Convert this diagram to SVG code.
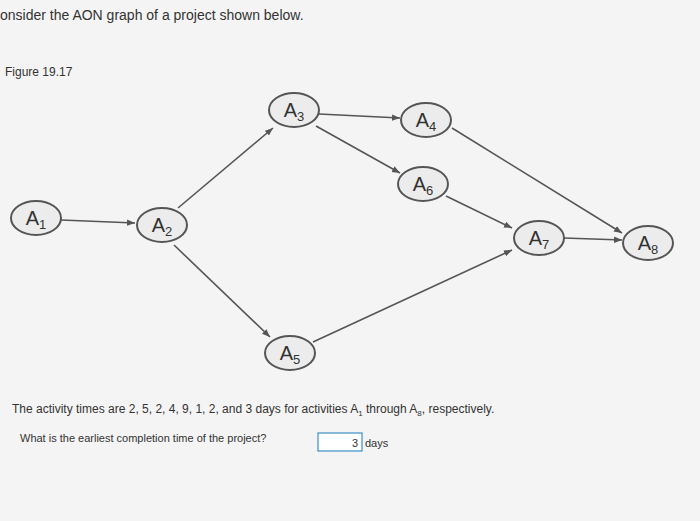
<svg xmlns="http://www.w3.org/2000/svg" width="700" height="521" viewBox="0 0 700 521">
<style>
.n{fill:#ececec;stroke:#555;stroke-width:2}
.l{font-family:"Liberation Sans",Arial,sans-serif;font-size:20px;fill:#333;text-anchor:middle}
.s{font-size:13px}
.c{stroke:#555;stroke-width:1.6;fill:none;marker-end:url(#ah)}
.t{font-family:"Liberation Sans",Arial,sans-serif;fill:#333}
</style>
<defs><marker id="ah" viewBox="0 0 10 10" refX="10" refY="5" markerWidth="8" markerHeight="8" orient="auto" markerUnits="userSpaceOnUse"><path d="M0,1 L10,5 L0,9z" fill="#555"/></marker></defs>
<rect width="700" height="521" fill="#f4f4f4"/>
<text class="t" x="0" y="20" font-size="14">onsider the AON graph of a project shown below.</text>
<text class="t" x="5" y="76" font-size="12">Figure 19.17</text>
<g id="connectors">
<line class="c" x1="61" y1="220" x2="135" y2="223"/>
<line class="c" x1="178" y1="208" x2="273" y2="128"/>
<line class="c" x1="174" y1="245" x2="270" y2="337"/>
<line class="c" x1="319" y1="114" x2="400" y2="118"/>
<line class="c" x1="316" y1="126" x2="400" y2="173"/>
<line class="c" x1="452" y1="128" x2="622" y2="233"/>
<line class="c" x1="446" y1="196" x2="512" y2="228"/>
<line class="c" x1="313" y1="342" x2="512" y2="250"/>
<line class="c" x1="564" y1="238" x2="622" y2="240"/>
</g>
<g id="A1"><ellipse class="n" cx="36" cy="218" rx="25" ry="17"/><text class="l" x="36" y="225">A<tspan class="s" dy="4">1</tspan></text></g>
<g id="A2"><ellipse class="n" cx="162" cy="225" rx="25" ry="17"/><text class="l" x="162" y="232">A<tspan class="s" dy="4">2</tspan></text></g>
<g id="A3"><ellipse class="n" cx="294" cy="110" rx="25" ry="17"/><text class="l" x="294" y="117">A<tspan class="s" dy="4">3</tspan></text></g>
<g id="A4"><ellipse class="n" cx="426" cy="120" rx="25" ry="17"/><text class="l" x="426" y="127">A<tspan class="s" dy="4">4</tspan></text></g>
<g id="A6"><ellipse class="n" cx="423" cy="184" rx="25" ry="17"/><text class="l" x="423" y="191">A<tspan class="s" dy="4">6</tspan></text></g>
<g id="A7"><ellipse class="n" cx="539" cy="238" rx="25" ry="17"/><text class="l" x="539" y="245">A<tspan class="s" dy="4">7</tspan></text></g>
<g id="A8"><ellipse class="n" cx="648" cy="243" rx="25" ry="17"/><text class="l" x="648" y="250">A<tspan class="s" dy="4">8</tspan></text></g>
<g id="A5"><ellipse class="n" cx="290" cy="353" rx="25" ry="17"/><text class="l" x="290" y="360">A<tspan class="s" dy="4">5</tspan></text></g>
<text class="t" x="12" y="413" font-size="12">The activity times are 2, 5, 2, 4, 9, 1, 2, and 3 days for activities A<tspan font-size="8" dy="3">1</tspan><tspan dy="-3"> through A</tspan><tspan font-size="8" dy="3">8</tspan><tspan dy="-3">, respectively.</tspan></text>
<text class="t" x="20" y="442" font-size="11">What is the earliest completion time of the project?</text>
<rect x="318" y="433" width="44" height="18" fill="#fff" stroke="#3a8fc8" stroke-width="1.2"/>
<text class="t" x="358" y="447" font-size="11" text-anchor="end">3</text>
<text class="t" x="365" y="447" font-size="11">days</text>
</svg>
